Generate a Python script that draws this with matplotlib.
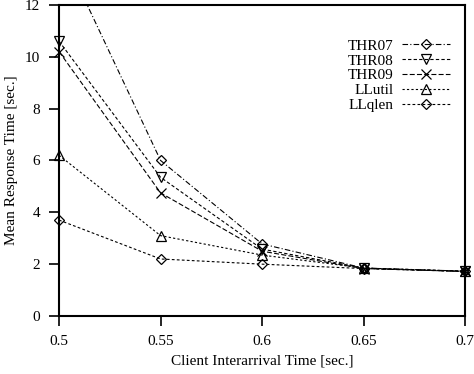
import numpy as np
import matplotlib
matplotlib.use("Agg")
import matplotlib.pyplot as plt

plt.rcParams['font.family'] = ['Liberation Serif', 'DejaVu Serif']
plt.rcParams['font.size'] = 11

interarrival = [0.5, 0.55, 0.6, 0.65, 0.7]
thr07 = [14.3, 6.0, 2.78, 1.85, 1.72]
thr08 = [10.6, 5.35, 2.58, 1.85, 1.73]
thr09 = [10.2, 4.75, 2.5, 1.83, 1.72]
llutil = [6.2, 3.1, 2.35, 1.85, 1.73]
llqlen = [3.7, 2.2, 2.0, 1.83, 1.72]

fig = plt.figure(figsize=(4.74, 3.74), dpi=100)
ax = fig.add_axes([0.1245, 0.155, 0.857, 0.832])

kw = dict(color='black', lw=0.8, markerfacecolor='none', markeredgecolor='black',
          markeredgewidth=0.9, markersize=6.5, clip_on=False)
ax.plot(interarrival, thr07, linestyle=(0, (5, 2, 1, 2)), marker='D', label='THR07',
        **{**kw, 'markersize': 5.5, 'clip_on': True})
ax.plot(interarrival, thr08, linestyle=(0, (3, 2)), marker='v', label='THR08', **kw)
ax.plot(interarrival, thr09, linestyle=(0, (4.5, 2)), marker='x', label='THR09', **kw)
ax.plot(interarrival, llutil, linestyle=(0, (2, 2)), marker='^', label='LLutil', **kw)
ax.plot(interarrival, llqlen, linestyle=(0, (2.5, 2)), marker='D', label='LLqlen',
        **{**kw, 'markersize': 5.5})

ax.set_xlim(0.5, 0.7)
ax.set_ylim(0, 12)
ax.set_xticks(interarrival)
ax.set_xticklabels(['0.5', '0.55', '0.6', '0.65', '0.7'])
ax.set_yticks(np.arange(0, 13, 2))
ax.tick_params(direction='out', length=7, width=1.2, pad=6.5, top=False, right=False)
for s in ax.spines.values():
    s.set_linewidth(1.5)

ax.set_xlabel('Client Interarrival Time [sec.]', labelpad=5)
ax.set_ylabel('Mean Response Time [sec.]', labelpad=5)

ax.legend(loc='upper right', bbox_to_anchor=(0.99, 0.925), frameon=False, markerfirst=False,
          handlelength=3.2, labelspacing=0.08, handletextpad=0.5, borderpad=0.2)

fig.savefig('out.png', dpi=100)
